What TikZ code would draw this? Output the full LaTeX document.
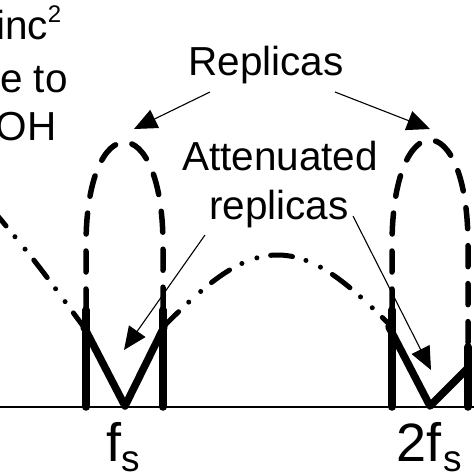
\documentclass[tikz,border=0pt]{standalone}
\usepackage{fontspec}
\setmainfont{Liberation Sans}
\usetikzlibrary{arrows.meta}
\begin{document}
\begin{tikzpicture}[x=1pt,y=-1pt,
  lbl/.style={inner sep=0pt, font=\fontsize{40.5}{40.5}\selectfont},
  freqlbl/.style={inner sep=0pt, anchor=base west, font=\fontsize{54}{54}\selectfont},
  ptr/.style={line width=1.1pt, -{Triangle[length=23pt,width=20pt]}},
  replica/.style={line width=5.5pt, line cap=round, dash pattern=on 21pt off 17pt},
  envelope/.style={line width=5pt, line cap=round, dash pattern=on 22pt off 14pt on 0pt off 16pt on 0pt off 14pt},
  spectrum/.style={line width=7.5pt, line cap=round, line join=round},
  axisline/.style={line width=1.2pt}]
\useasboundingbox (0,0) rectangle (474,474);
\clip (0,0) rectangle (474,474);

% texts
\node[lbl, anchor=base west] (t1) at (-4,39) {inc\raisebox{17pt}{\fontsize{24}{24}\selectfont 2}};
\node[lbl, anchor=base west] (t2) at (0,92) {e to};
\node[lbl, anchor=base west] (t3) at (-4.5,140) {OH};
\node[lbl, anchor=base] (rep) at (266,75) {Replicas};
\node[lbl, anchor=base] (att1) at (280,170) {Attenuated};
\node[lbl, anchor=base] (att2) at (279,219) {replicas};
\node[freqlbl] (fs) at (106,461) {f\raisebox{-10pt}{\fontsize{37}{37}\selectfont s}};
\node[freqlbl] (tfs) at (396,461) {2f\kern2pt\raisebox{-10pt}{\fontsize{37}{37}\selectfont s}};

% sinc^2 envelope (dash-dot)
\draw[envelope] (-8,209) .. controls (36,262) .. (83,326);
\draw[envelope, dash phase=3pt] plot[domain=165:390, samples=60] ({\x},{327-72*sin((\x-163)/229*180)});

% replicas (dashed arches)
\draw[replica] (86,310) -- (86,245) .. controls (86,108) and (163,108) .. (163,245) -- (163,310);
\draw[replica] (392,310) -- (392,245) .. controls (392,105) and (468,105) .. (468,245) -- (468,345);

% pointer arrows
\coordinate (rl0) at (210,92);  \coordinate (rl1) at (134,129);
\coordinate (rr0) at (335,92);  \coordinate (rr1) at (430,129);
\coordinate (al0) at (205,235); \coordinate (al1) at (124,350);
\coordinate (ar0) at (353,216); \coordinate (ar1) at (431,370);
\draw[ptr] (rl0) -- (rl1);
\draw[ptr] (rr0) -- (rr1);
\draw[ptr] (al0) -- (al1);
\draw[ptr] (ar0) -- (ar1);

% axis
\coordinate (ax0) at (-5,407); \coordinate (ax1) at (480,407);
\draw[axisline] (ax0) -- (ax1);

% attenuated spectra (M shapes)
\draw[spectrum] (86,407) -- (86,310);
\draw[spectrum] (84,327) -- (125,406) -- (164,327);
\draw[spectrum] (163,407) -- (163,310);
\draw[spectrum] (392,407) -- (392,310);
\draw[spectrum] (389,327) -- (430,406) -- (468,368);
\draw[spectrum] (468,407) -- (468,347);
\end{tikzpicture}
\end{document}
